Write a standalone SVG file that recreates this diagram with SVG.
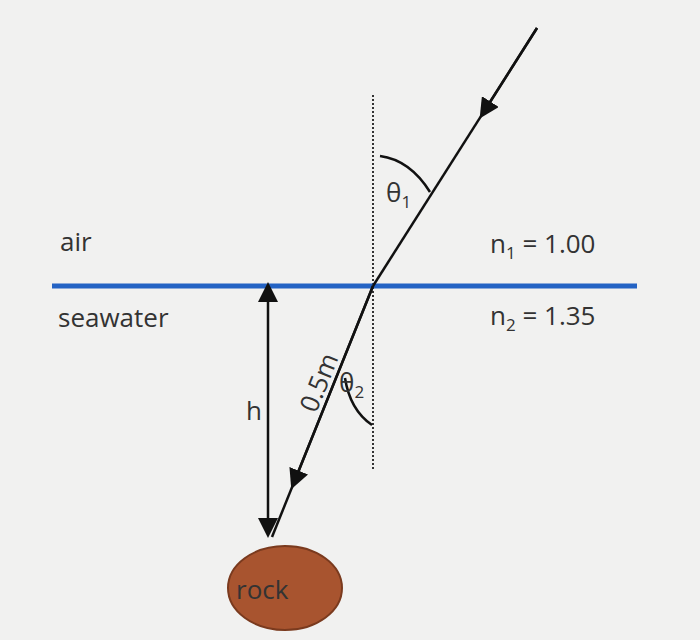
<svg xmlns="http://www.w3.org/2000/svg" width="700" height="640" viewBox="0 0 700 640">
<style>
text{font-family:"Open Sans","Liberation Sans",sans-serif;fill:#333;font-size:26px}
.ray{stroke:#111;stroke-width:2.5;fill:none}
</style>
<defs>
<marker id="ah" viewBox="0 0 10 10" refX="5" refY="5" markerWidth="8" markerHeight="8" orient="auto-start-reverse"><path d="M0,0 L10,5 L0,10 z" fill="#111"/></marker>
</defs>
<rect width="700" height="640" fill="#f1f1f0"/>
<g id="normal"><line x1="373" y1="95" x2="373" y2="470" stroke="#333" stroke-width="2" stroke-dasharray="2,2"/></g>
<g id="interface"><line x1="52" y1="286" x2="637" y2="286" stroke="#2463c4" stroke-width="5"/></g>
<g id="connectors">
<line class="ray" x1="537" y1="28" x2="373" y2="286"/>
<line class="ray" x1="537" y1="28" x2="485" y2="110" marker-end="url(#ah)"/>
<line class="ray" x1="373" y1="286" x2="272" y2="537"/>
<line class="ray" x1="373" y1="286" x2="295" y2="480" marker-end="url(#ah)"/>
<line class="ray" x1="268" y1="292" x2="268" y2="528" marker-start="url(#ah)" marker-end="url(#ah)"/>
<path class="ray" d="M380,156 Q410,160 430,192" stroke-width="1.5"/>
<path class="ray" d="M345,378 Q350,410 372,425" stroke-width="1.5"/>
</g>
<g id="rock"><ellipse cx="285" cy="588" rx="57" ry="42" fill="#a8542f" stroke="#7a3a1e" stroke-width="2"/><text x="236" y="599" fill="#444">rock</text></g>
<g id="labels">
<text x="60" y="251">air</text>
<text x="58" y="327">seawater</text>
<text x="490" y="253">n<tspan font-size="17" dy="6">1</tspan><tspan dy="-6"> = 1.00</tspan></text>
<text x="490" y="325">n<tspan font-size="17" dy="6">2</tspan><tspan dy="-6"> = 1.35</tspan></text>
<text x="386" y="202">θ<tspan font-size="17" dy="6">1</tspan></text>
<text x="339" y="392">θ<tspan font-size="17" dy="6">2</tspan></text>
<text x="246" y="420">h</text>
<text transform="translate(316,414) rotate(-68)" font-size="24">0.5m</text>
</g>
</svg>
